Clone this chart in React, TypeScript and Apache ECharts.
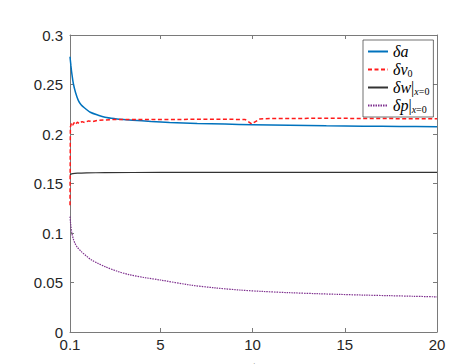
import React, { useEffect, useRef } from "react";
import * as echarts from "echarts";

// ---- data ----
const xTicks = [0.1, 5, 10, 15, 20];
const yTicks = [0, 0.05, 0.1, 0.15, 0.2, 0.25, 0.3];

const seriesNames = ["δa", "δv0", "δw", "δp"];

const tA = [0.1, 0.15, 0.2, 0.28, 0.4, 0.55, 0.7, 0.91, 1.2, 1.63, 2.0, 2.54, 3.0, 3.5, 4.5, 5.5, 7, 8.5, 10, 12, 14, 16, 18, 20];
const vA = [0.278, 0.269, 0.261, 0.251, 0.242, 0.234, 0.2295, 0.226, 0.222, 0.219, 0.217, 0.2155, 0.2146, 0.214, 0.2127, 0.2117, 0.2107, 0.21, 0.2094, 0.2088, 0.2083, 0.2079, 0.2076, 0.2074];

const tV = [0.1, 0.12, 0.18, 0.25, 0.32, 0.4, 0.5, 0.6, 0.75, 0.9, 1.1, 1.3, 1.6, 2.0, 2.5, 3.5, 5, 7, 9, 9.6, 9.95, 10.4, 11, 13, 15, 17, 20];
const vV = [0.128, 0.207, 0.211, 0.209, 0.2115, 0.2095, 0.212, 0.2105, 0.2125, 0.2115, 0.2132, 0.2125, 0.2138, 0.2142, 0.2146, 0.2147, 0.2147, 0.2148, 0.2148, 0.2146, 0.2102, 0.2152, 0.2156, 0.2158, 0.2158, 0.2156, 0.2153];

const tW = [0.1, 0.15, 0.25, 0.5, 1, 2, 5, 10, 15, 20];
const vW = [0.1586, 0.1595, 0.16, 0.1604, 0.1607, 0.161, 0.1612, 0.1613, 0.1613, 0.1613];

const tP = [0.1, 0.13, 0.19, 0.28, 0.37, 0.5, 0.73, 1.0, 1.27, 1.6, 2.0, 2.72, 3.3, 4.17, 5, 6.6, 8, 9.3, 10.5, 12, 13.5, 14.7, 16, 17.4, 18.7, 20];
const vP = [0.1165, 0.11, 0.101, 0.094, 0.0896, 0.0855, 0.081, 0.0765, 0.0727, 0.0695, 0.066, 0.061, 0.058, 0.0549, 0.0525, 0.0475, 0.0445, 0.0424, 0.041, 0.0397, 0.0387, 0.038, 0.0373, 0.0367, 0.0361, 0.0355];

const pairs = (t: number[], v: number[]) => t.map((x, i) => [x, v[i]]);

const axisColor = "#7a7a7a";
const labelColor = "#262626";
const clear = "rgba(0,0,0,0)";

export default function App() {
  const ref = useRef<HTMLDivElement>(null);
  useEffect(() => {
    if (!ref.current) return;
    const chart = echarts.init(ref.current, undefined, { renderer: "svg" });
    const tick = { show: true, inside: true, length: 4, lineStyle: { color: axisColor, width: 1 } };
    const labelFont = { fontFamily: "Liberation Sans", fontSize: 15, color: labelColor };
    chart.setOption({
      animation: false,
      backgroundColor: "#fff",
      grid: { left: 70, right: 37, top: 35, bottom: 32, containLabel: false, outerBoundsMode: "none" },
      legend: {
        orient: "vertical",
        left: 363,
        top: 40,
        backgroundColor: "#fff",
        borderColor: "#333",
        borderWidth: 0.7,
        padding: [3, 4, 3, 4],
        itemWidth: 20,
        itemHeight: 10,
        itemGap: 1,
        data: seriesNames,
        formatter: (name: string) => {
          if (name === "δa") return "{m|δa}";
          if (name === "δv0") return "{m|δv}{s|0}";
          if (name === "δw") return "{m|δw}{n||}{sx|x}{s|=0}";
          return "{m|δp}{n||}{sx|x}{s|=0}";
        },
        textStyle: {
          color: "#000",
          fontFamily: "Liberation Serif",
          fontSize: 16,
          lineHeight: 17,
          rich: {
            m: { fontFamily: "Liberation Serif", fontStyle: "italic", fontSize: 16, lineHeight: 17, color: "#000" },
            n: { fontFamily: "Liberation Serif", fontSize: 16, lineHeight: 17, color: "#000" },
            sx: { fontFamily: "Liberation Serif", fontStyle: "italic", fontSize: 10, lineHeight: 17, verticalAlign: "bottom", color: "#000" },
            s: { fontFamily: "Liberation Serif", fontSize: 10, lineHeight: 17, verticalAlign: "bottom", color: "#000" },
          },
        },
      },
      xAxis: [
        {
          type: "value",
          position: "bottom",
          min: 0.1,
          max: 20,
          name: "t",
          nameLocation: "middle",
          nameGap: 27,
          nameTextStyle: { fontFamily: "Liberation Serif", fontStyle: "italic", fontSize: 16, color: "#000" },
          axisLine: { show: true, onZero: false, lineStyle: { color: axisColor, width: 1 } },
          axisTick: { ...tick, customValues: xTicks },
          axisLabel: { ...labelFont, margin: 5, customValues: xTicks, formatter: (v: number) => String(v) },
          splitLine: { show: false },
        },
        {
          type: "value",
          position: "top",
          min: 0.1,
          max: 20,
          axisLine: { show: true, onZero: false, lineStyle: { color: axisColor, width: 1 } },
          axisTick: { ...tick, customValues: xTicks },
          axisLabel: { show: false },
          splitLine: { show: false },
        },
      ],
      yAxis: [
        {
          type: "value",
          position: "left",
          min: 0,
          max: 0.3,
          interval: 0.05,
          axisLine: { show: true, onZero: false, lineStyle: { color: axisColor, width: 1 } },
          axisTick: { ...tick },
          axisLabel: { ...labelFont, margin: 7, formatter: (v: number) => String(parseFloat(v.toFixed(2))) },
          splitLine: { show: false },
        },
        {
          type: "value",
          position: "right",
          min: 0,
          max: 0.3,
          interval: 0.05,
          axisLine: { show: true, onZero: false, lineStyle: { color: axisColor, width: 1 } },
          axisTick: { ...tick },
          axisLabel: { show: false },
          splitLine: { show: false },
        },
      ],
      series: [
        {
          name: "δa",
          type: "line",
          symbol: "none",
          smooth: 0.3,
          data: pairs(tA, vA),
          lineStyle: { color: "#0072BD", width: 1.5 },
          itemStyle: { color: clear, borderColor: clear },
        },
        {
          name: "δv0",
          type: "line",
          symbol: "none",
          data: pairs(tV, vV),
          lineStyle: { color: "#ff1a1a", width: 1.5, type: [4, 2.5] },
          itemStyle: { color: clear, borderColor: clear },
        },
        {
          name: "δw",
          type: "line",
          symbol: "none",
          smooth: 0.3,
          data: pairs(tW, vW),
          lineStyle: { color: "#333", width: 1.2 },
          itemStyle: { color: clear, borderColor: clear },
        },
        {
          name: "δp",
          type: "line",
          symbol: "none",
          smooth: 0.3,
          data: pairs(tP, vP),
          lineStyle: { color: "#7E2F8E", width: 1.2, type: [1.5, 1] },
          itemStyle: { color: clear, borderColor: clear },
        },
      ],
    });
    return () => chart.dispose();
  }, []);
  return (
    <div
      ref={ref}
      style={{ position: "fixed", left: 0, top: 0, width: 474, height: 364, background: "#fff" }}
    />
  );
}
